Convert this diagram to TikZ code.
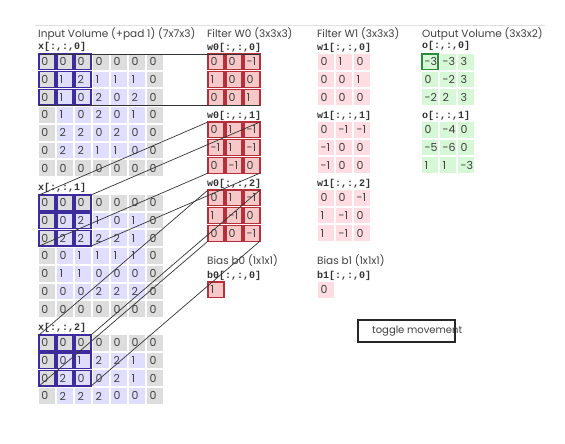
\documentclass[tikz,border=0pt]{standalone}
\usepackage{fontspec}
\setmainfont{Poppins}
\newfontfamily\monofont{Liberation Mono}[BoldFont={Liberation Mono Bold}]
\definecolor{padgray}{HTML}{DDDDDD}
\definecolor{inlav}{HTML}{E0DEFF}
\definecolor{hiblue}{HTML}{3E2C9C}
\definecolor{wfill}{HTML}{F7C8C8}
\definecolor{wdraw}{HTML}{B5303A}
\definecolor{vfill}{HTML}{FFDDE2}
\definecolor{ofill}{HTML}{D6F8D6}
\definecolor{hgreen}{HTML}{2E8B3E}
\definecolor{txt}{HTML}{404040}
\begin{document}
\begin{tikzpicture}[x=1pt,y=-1pt,
  cellbase/.style={rectangle, inner xsep=2.5pt, inner ysep=0pt, outer sep=0pt,
    minimum width=16pt, minimum height=15.7pt, text width=11pt, align=left,
    anchor=north west, font=\fontsize{11}{11}\selectfont, text=txt},
  incell0/.style={cellbase, fill=inlav},
  incell1/.style={cellbase, fill=padgray},
  hi0/.style={},
  hi1/.style={draw=hiblue, line width=1.6pt},
  wcell/.style={cellbase, fill=wfill, draw=wdraw, line width=1.2pt},
  vcell/.style={cellbase, fill=vfill},
  ocell/.style={cellbase, fill=ofill},
  title/.style={anchor=west, inner sep=0pt, font=\fontsize{10.5}{10.5}\selectfont, text=txt},
  mono/.style={anchor=west, inner sep=0pt, font=\monofont\bfseries\fontsize{10}{10}\selectfont, text=black!80},
  conn/.style={draw=black!80, line width=0.7pt}
]
\useasboundingbox (0,0) rectangle (565,444);
\fill[white] (0,0) rectangle (565,444);
\draw[black!12, line width=0.6pt] (35,25) -- (545,25);

\newcommand\drawingrid[3]{%
  \foreach \row [count=\ri from 0] in {#3} {
    \foreach \v [count=\ci from 0] in \row {
      \pgfmathtruncatemacro\ispad{(\ri==0)||(\ci==0)||(\ci==6)||(\ri==6)}
      \pgfmathtruncatemacro\ishi{(\ri<3)&&(\ci<3)}
      \node[incell\ispad, hi\ishi] (#1-\ri-\ci) at ({39+18*\ci},{#2+17.7*\ri}) {\mbox{\v}};
    }
  }
}
\newcommand\drawsmall[5]{%
  \foreach \row [count=\ri from 0] in {#5} {
    \foreach \v [count=\ci from 0] in \row {
      \node[#4] (#1-\ri-\ci) at ({#2+18*\ci},{#3+17.7*\ri}) {\mbox{\v}};
    }
  }
}

% titles
\node[title] (tin) at (38,34) {Input Volume (+pad 1) (7x7x3)};
\node[title] (tw0) at (207,34) {Filter W0 (3x3x3)};
\node[title] (tw1) at (317,34) {Filter W1 (3x3x3)};
\node[title] (tout) at (422,34) {Output Volume (3x3x2)};

% input
\node[mono] (lx0) at (38,47) {x[:,:,0]};
\drawingrid{x0}{54}{{0,0,0,0,0,0,0},{0,1,2,1,1,1,0},{0,1,0,2,0,2,0},{0,1,0,2,0,1,0},{0,2,2,0,2,0,0},{0,2,2,1,1,0,0},{0,0,0,0,0,0,0}}
\node[mono] (lx1) at (38,188) {x[:,:,1]};
\drawingrid{x1}{195}{{0,0,0,0,0,0,0},{0,0,2,1,0,1,0},{0,2,2,2,2,1,0},{0,0,1,1,1,1,0},{0,1,1,0,0,0,0},{0,0,0,2,2,2,0},{0,0,0,0,0,0,0}}
\node[mono] (lx2) at (38,328) {x[:,:,2]};
\drawingrid{x2}{335}{{0,0,0,0,0,0,0},{0,0,1,2,2,1,0},{0,2,0,0,2,1,0},{0,2,2,2,0,0,0}}

% filter W0
\node[mono] (lwa0) at (207,48) {w0[:,:,0]};
\drawsmall{wa0}{208}{54}{wcell}{{0,0,-1},{1,0,0},{0,0,1}}
\node[mono] (lwa1) at (207,116) {w0[:,:,1]};
\drawsmall{wa1}{208}{122}{wcell}{{0,1,-1},{-1,1,-1},{0,-1,0}}
\node[mono] (lwa2) at (207,184) {w0[:,:,2]};
\drawsmall{wa2}{208}{190}{wcell}{{0,1,-1},{1,-1,0},{0,0,-1}}
\node[title] (tb0) at (207,261) {Bias b0 (1x1x1)};
\node[mono] (lb0) at (207,276) {b0[:,:,0]};
\node[wcell] (b0) at (208,282) {1};

% filter W1
\node[mono] (lwb0) at (317,48) {w1[:,:,0]};
\drawsmall{wb0}{318}{54}{vcell}{{0,1,0},{0,0,1},{0,0,0}}
\node[mono] (lwb1) at (317,116) {w1[:,:,1]};
\drawsmall{wb1}{318}{122}{vcell}{{0,-1,-1},{-1,0,0},{-1,0,0}}
\node[mono] (lwb2) at (317,184) {w1[:,:,2]};
\drawsmall{wb2}{318}{190}{vcell}{{0,0,-1},{1,-1,0},{1,-1,0}}
\node[title] (tb1) at (317,261) {Bias b1 (1x1x1)};
\node[mono] (lb1) at (317,276) {b1[:,:,0]};
\node[vcell] (b1) at (318,282) {0};

% output
\node[mono] (lo0) at (422,46) {o[:,:,0]};
\drawsmall{o0}{422}{54}{ocell}{{-3,-3,3},{0,-2,3},{-2,2,3}}
\node[mono] (lo1) at (422,116) {o[:,:,1]};
\drawsmall{o1}{422}{122}{ocell}{{0,-4,0},{-5,-6,0},{1,1,-3}}
\draw[hgreen, line width=1.4pt] (o0-0-0.north west) rectangle (o0-0-0.south east);

% connectors
\foreach \k in {0,1,2} {
  \draw[conn] (x\k-0-0.north west) -- (wa\k-0-0.north west);
  \draw[conn] (x\k-0-2.north east) -- (wa\k-0-2.north east);
  \draw[conn] (x\k-2-0.south west) -- (wa\k-2-0.south west);
  \draw[conn] (x\k-2-2.south east) -- (wa\k-2-2.south east);
}

% toggle
\node[draw=black!85, line width=1.2pt, minimum width=97pt, minimum height=22pt, inner sep=0pt] (toggle) at (406.5,331) {};
\node[title, font=\fontsize{10}{10}\selectfont] (togtext) at (372,331) {toggle movement};
\end{tikzpicture}
\end{document}
